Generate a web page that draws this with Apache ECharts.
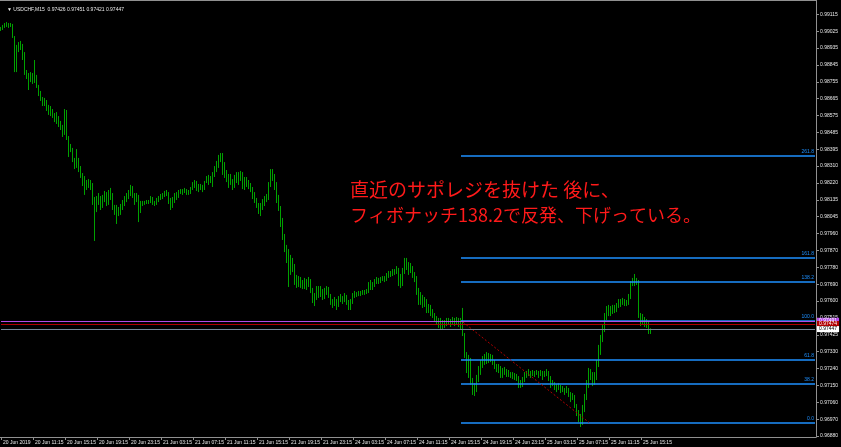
<!DOCTYPE html>
<html>
<head>
<meta charset="utf-8">
<script src="https://cdn.jsdelivr.net/npm/echarts@6/dist/echarts.min.js"></script>
<style>
html,body{margin:0;padding:0;background:#000;}
#c{width:841px;height:447px;}
</style>
</head>
<body>
<div id="c"></div>
<script>
// USDCHF M15, one bar per 15 minutes, starting 20 Jun 2019 07:15
const firstOpen = 0.99032;
const closes = [
0.99037,0.99048,0.99059,0.99064,0.99053,0.99059,0.98995,0.98815,0.98926,0.98953,
0.98958,0.98884,0.98804,0.98794,0.98767,0.98794,0.98772,0.98788,0.98735,0.98698,
0.98666,0.98645,0.98656,0.98619,0.98597,0.98608,0.98582,0.98555,0.98571,0.98534,
0.98518,0.98486,0.98603,0.98465,0.98417,0.98396,0.98343,0.98311,0.98343,0.98301,
0.98258,0.98237,0.98221,0.98205,0.98226,0.98211,0.98136,0.98089,0.98131,0.98147,
0.98099,0.98142,0.98168,0.98115,0.98147,0.98158,0.98089,0.98067,0.98078,0.98062,
0.98094,0.98105,0.98136,0.98147,0.98168,0.98195,0.98158,0.98131,0.98152,0.98073,
0.98110,0.98115,0.98115,0.98120,0.98126,0.98142,0.98115,0.98110,0.98131,0.98136,
0.98147,0.98152,0.98168,0.98173,0.98131,0.98094,0.98126,0.98158,0.98147,0.98168,
0.98179,0.98173,0.98184,0.98168,0.98173,0.98189,0.98205,0.98226,0.98195,0.98189,
0.98200,0.98189,0.98221,0.98237,0.98242,0.98237,0.98264,0.98279,0.98311,0.98343,
0.98354,0.98327,0.98264,0.98253,0.98221,0.98237,0.98205,0.98237,0.98264,0.98248,
0.98274,0.98237,0.98216,0.98232,0.98205,0.98184,0.98168,0.98131,0.98105,0.98078,
0.98094,0.98115,0.98131,0.98142,0.98211,0.98279,0.98258,0.98216,0.98152,0.98089,
0.98025,0.97940,0.97877,0.97824,0.97840,0.97760,0.97787,0.97718,0.97686,0.97707,
0.97691,0.97675,0.97696,0.97686,0.97707,0.97654,0.97601,0.97617,0.97654,0.97643,
0.97654,0.97617,0.97638,0.97665,0.97628,0.97596,0.97580,0.97601,0.97569,0.97601,
0.97617,0.97596,0.97622,0.97590,0.97569,0.97585,0.97622,0.97633,0.97628,0.97638,
0.97633,0.97643,0.97638,0.97649,0.97665,0.97691,0.97675,0.97702,0.97707,0.97696,
0.97712,0.97718,0.97707,0.97728,0.97739,0.97734,0.97749,0.97744,0.97760,0.97696,
0.97681,0.97749,0.97802,0.97792,0.97760,0.97771,0.97739,0.97718,0.97654,0.97590,
0.97622,0.97580,0.97601,0.97548,0.97564,0.97537,0.97522,0.97506,0.97490,0.97469,
0.97484,0.97458,0.97474,0.97484,0.97490,0.97474,0.97500,0.97484,0.97495,0.97479,
0.97453,0.97421,0.97310,0.97230,0.97283,0.97177,0.97135,0.97124,0.97177,0.97219,
0.97257,0.97283,0.97272,0.97304,0.97283,0.97299,0.97272,0.97251,0.97230,0.97241,
0.97209,0.97219,0.97230,0.97209,0.97214,0.97198,0.97204,0.97193,0.97188,0.97166,
0.97151,0.97177,0.97198,0.97209,0.97219,0.97204,0.97214,0.97209,0.97219,0.97204,
0.97214,0.97198,0.97209,0.97219,0.97188,0.97156,0.97161,0.97145,0.97135,0.97145,
0.97124,0.97129,0.97113,0.97129,0.97103,0.97082,0.97092,0.97045,0.97002,0.96976,
0.96965,0.97018,0.97082,0.97151,0.97219,0.97198,0.97166,0.97188,0.97257,0.97325,
0.97389,0.97442,0.97506,0.97537,0.97548,0.97537,0.97559,0.97553,0.97569,0.97590,
0.97585,0.97596,0.97580,0.97585,0.97617,0.97686,0.97696,0.97691,0.97702,0.97516,
0.97484,0.97506,0.97469,0.97479,0.97426,0.97447
];
const highs = [
0.99048,0.99059,0.99069,0.99074,0.99069,0.99069,0.99064,0.99000,0.98953,0.98968,
0.98974,0.98958,0.98915,0.98820,0.98804,0.98809,0.98804,0.98873,0.98794,0.98741,
0.98709,0.98677,0.98672,0.98661,0.98635,0.98629,0.98613,0.98592,0.98597,0.98576,
0.98550,0.98529,0.98613,0.98608,0.98470,0.98428,0.98407,0.98354,0.98401,0.98354,
0.98311,0.98274,0.98258,0.98237,0.98242,0.98237,0.98221,0.98147,0.98152,0.98168,
0.98152,0.98158,0.98179,0.98173,0.98184,0.98195,0.98168,0.98105,0.98105,0.98094,
0.98110,0.98131,0.98152,0.98168,0.98184,0.98211,0.98205,0.98168,0.98168,0.98158,
0.98126,0.98126,0.98126,0.98131,0.98131,0.98152,0.98147,0.98126,0.98142,0.98152,
0.98163,0.98168,0.98179,0.98184,0.98173,0.98142,0.98147,0.98168,0.98173,0.98184,
0.98189,0.98189,0.98195,0.98189,0.98184,0.98200,0.98226,0.98237,0.98232,0.98216,
0.98216,0.98211,0.98232,0.98258,0.98264,0.98258,0.98279,0.98311,0.98338,0.98370,
0.98380,0.98380,0.98332,0.98290,0.98269,0.98269,0.98242,0.98264,0.98279,0.98279,
0.98285,0.98279,0.98253,0.98253,0.98237,0.98221,0.98200,0.98173,0.98142,0.98115,
0.98115,0.98136,0.98152,0.98163,0.98226,0.98295,0.98295,0.98269,0.98226,0.98158,
0.98099,0.98036,0.97951,0.97893,0.97871,0.97840,0.97824,0.97792,0.97734,0.97728,
0.97723,0.97707,0.97718,0.97712,0.97723,0.97712,0.97665,0.97638,0.97675,0.97675,
0.97675,0.97659,0.97665,0.97675,0.97670,0.97633,0.97606,0.97617,0.97606,0.97622,
0.97633,0.97622,0.97638,0.97628,0.97601,0.97606,0.97638,0.97649,0.97643,0.97649,
0.97649,0.97654,0.97654,0.97659,0.97696,0.97707,0.97696,0.97712,0.97723,0.97718,
0.97723,0.97728,0.97728,0.97744,0.97755,0.97755,0.97765,0.97765,0.97781,0.97771,
0.97739,0.97771,0.97824,0.97824,0.97802,0.97797,0.97781,0.97749,0.97728,0.97665,
0.97643,0.97628,0.97617,0.97606,0.97580,0.97575,0.97553,0.97532,0.97516,0.97506,
0.97506,0.97495,0.97495,0.97506,0.97506,0.97500,0.97511,0.97506,0.97511,0.97506,
0.97506,0.97559,0.97426,0.97325,0.97310,0.97294,0.97188,0.97161,0.97204,0.97251,
0.97283,0.97304,0.97315,0.97325,0.97320,0.97315,0.97310,0.97283,0.97262,0.97262,
0.97251,0.97241,0.97246,0.97235,0.97230,0.97219,0.97219,0.97214,0.97209,0.97198,
0.97177,0.97193,0.97219,0.97225,0.97235,0.97225,0.97230,0.97225,0.97230,0.97225,
0.97230,0.97225,0.97225,0.97235,0.97225,0.97198,0.97177,0.97166,0.97156,0.97161,
0.97151,0.97145,0.97135,0.97145,0.97135,0.97113,0.97108,0.97098,0.97050,0.97018,
0.96997,0.97045,0.97103,0.97177,0.97241,0.97235,0.97219,0.97219,0.97283,0.97363,
0.97416,0.97469,0.97532,0.97569,0.97575,0.97569,0.97575,0.97575,0.97585,0.97606,
0.97606,0.97612,0.97606,0.97601,0.97633,0.97702,0.97718,0.97739,0.97718,0.97707,
0.97532,0.97527,0.97511,0.97500,0.97484,0.97451
];
const lows = [
0.99027,0.99032,0.99043,0.99048,0.99043,0.99048,0.98990,0.98809,0.98809,0.98915,
0.98926,0.98873,0.98794,0.98772,0.98714,0.98756,0.98746,0.98751,0.98725,0.98682,
0.98656,0.98629,0.98629,0.98603,0.98582,0.98576,0.98566,0.98544,0.98534,0.98518,
0.98502,0.98465,0.98476,0.98449,0.98359,0.98385,0.98332,0.98295,0.98301,0.98279,
0.98248,0.98205,0.98158,0.98184,0.98195,0.98184,0.98105,0.97914,0.98067,0.98105,
0.98078,0.98089,0.98120,0.98099,0.98105,0.98131,0.98078,0.98052,0.98004,0.98046,
0.98052,0.98078,0.98099,0.98120,0.98136,0.98152,0.98142,0.98105,0.98120,0.98014,
0.98062,0.98099,0.98105,0.98110,0.98110,0.98115,0.98105,0.98099,0.98105,0.98120,
0.98131,0.98136,0.98147,0.98152,0.98110,0.98078,0.98089,0.98115,0.98131,0.98142,
0.98163,0.98158,0.98168,0.98158,0.98158,0.98163,0.98184,0.98195,0.98179,0.98173,
0.98184,0.98173,0.98184,0.98221,0.98211,0.98221,0.98200,0.98253,0.98290,0.98301,
0.98332,0.98264,0.98248,0.98226,0.98195,0.98211,0.98184,0.98195,0.98221,0.98211,
0.98232,0.98189,0.98184,0.98200,0.98189,0.98173,0.98136,0.98115,0.98089,0.98057,
0.98046,0.98078,0.98099,0.98120,0.98131,0.98200,0.98232,0.98184,0.98115,0.98073,
0.97988,0.97919,0.97855,0.97797,0.97670,0.97734,0.97749,0.97681,0.97665,0.97670,
0.97665,0.97659,0.97659,0.97654,0.97670,0.97638,0.97585,0.97569,0.97601,0.97612,
0.97617,0.97601,0.97606,0.97628,0.97612,0.97575,0.97559,0.97569,0.97548,0.97564,
0.97590,0.97580,0.97590,0.97575,0.97548,0.97548,0.97580,0.97612,0.97617,0.97622,
0.97622,0.97628,0.97628,0.97633,0.97638,0.97654,0.97654,0.97670,0.97686,0.97686,
0.97691,0.97702,0.97696,0.97702,0.97718,0.97723,0.97728,0.97734,0.97739,0.97675,
0.97665,0.97675,0.97739,0.97760,0.97734,0.97744,0.97718,0.97696,0.97628,0.97575,
0.97575,0.97559,0.97564,0.97532,0.97532,0.97516,0.97506,0.97484,0.97474,0.97453,
0.97442,0.97442,0.97453,0.97463,0.97469,0.97458,0.97469,0.97463,0.97474,0.97458,
0.97442,0.97410,0.97294,0.97214,0.97188,0.97151,0.97098,0.97092,0.97113,0.97166,
0.97204,0.97241,0.97257,0.97262,0.97267,0.97272,0.97257,0.97235,0.97219,0.97214,
0.97188,0.97188,0.97204,0.97193,0.97193,0.97188,0.97182,0.97177,0.97172,0.97135,
0.97135,0.97140,0.97166,0.97188,0.97198,0.97188,0.97198,0.97193,0.97204,0.97188,
0.97198,0.97177,0.97193,0.97198,0.97172,0.97135,0.97145,0.97124,0.97113,0.97124,
0.97108,0.97113,0.97098,0.97108,0.97087,0.97060,0.97071,0.97029,0.96986,0.96954,
0.96928,0.96939,0.97007,0.97071,0.97135,0.97177,0.97145,0.97151,0.97177,0.97246,
0.97310,0.97378,0.97431,0.97495,0.97516,0.97516,0.97527,0.97532,0.97537,0.97559,
0.97564,0.97575,0.97569,0.97569,0.97575,0.97606,0.97675,0.97675,0.97681,0.97506,
0.97463,0.97474,0.97458,0.97453,0.97421,0.97421
];
const timeTickLabels = ["20 Jun 2019","20 Jun 11:15","20 Jun 15:15","20 Jun 19:15","20 Jun 23:15",
"21 Jun 03:15","21 Jun 07:15","21 Jun 11:15","21 Jun 15:15","21 Jun 19:15","21 Jun 23:15",
"24 Jun 03:15","24 Jun 07:15","24 Jun 11:15","24 Jun 15:15","24 Jun 19:15","24 Jun 23:15",
"25 Jun 03:15","25 Jun 07:15","25 Jun 11:15","25 Jun 15:15"];
const priceTickLabels = ["0.96880","0.96970","0.97060","0.97150","0.97240","0.97330","0.97425",
"0.97515","0.97600","0.97690","0.97780","0.97870","0.97960","0.98045","0.98135","0.98220",
"0.98310","0.98395","0.98485","0.98575","0.98665","0.98755","0.98845","0.98935","0.99025","0.99115"];
const fibNames = ["261.8","161.8","138.2","100.0","61.8","38.2","0.0"];
const fibValues = [0.98368,0.97827,0.97700,0.97493,0.97286,0.97159,0.96952];
const fibStartBar = 230;
const trendFrom = [231, 0.97484];
const trendTo = [294, 0.96952];
const hLines = [
  {name:"0.97491", value:0.97491, color:"#b44be6", text:"#ffffff"},
  {name:"0.97474", value:0.97474, color:"#b00000", text:"#ffffff"},
  {name:"0.97447", value:0.97447, color:"#778899", box:"#ffffff", text:"#000000"}
];
const titleText = "USDCHF,M15  0.97426 0.97451 0.97421 0.97447";
const noteLines = ["直近のサポレジを抜けた 後に、","フィボナッチ138.2で反発、下げっている。"];

const totalSlots = 408; // bars + empty right shift space
const cats = [];
for (let i = 0; i < totalSlots; i++) cats.push(String(i));
const ohlc = closes.map((c, i) => {
  const o = i === 0 ? firstOpen : closes[i - 1];
  const h = Math.max(highs[i], o, c);
  const l = Math.min(lows[i], o, c);
  return [o, c, l, h];
});

const smallFont = 'Liberation Sans';
const fibMarks = fibValues.map((v, k) => [
  {coord:[fibStartBar, v], lineStyle:{color:'#1e90ff', width:1.5, type:'solid'},
   label:{show:true, position:'insideEndTop', formatter:fibNames[k], color:'#1e90ff', fontSize:5, distance:1, fontFamily:smallFont}},
  {coord:[totalSlots - 1, v]}
]);
const hMarks = hLines.map(h => [
  {coord:[0, h.value], lineStyle:{color:h.color, width:1, type:'solid'},
   label:{show:true, position:'end', formatter:h.name, distance:2,
    backgroundColor:h.box || h.color, color:h.text, fontSize:5, padding:[1,2,0,2], fontFamily:smallFont}},
  {coord:[totalSlots - 1, h.value]}
]);
const trendMark = [
  {coord:trendFrom, lineStyle:{color:'#b00000', width:1, type:[2,2]}, label:{show:false}},
  {coord:trendTo}
];

const chart = echarts.init(document.getElementById('c'), null, {renderer:'canvas'});
chart.setOption({
  backgroundColor:'#000000',
  animation:false,
  title:{text:'\u25BC ' + titleText, left:2, top:2,
    textStyle:{color:'#e8e8e8', fontSize:5, fontWeight:'normal', fontFamily:smallFont}},
  grid:[
    {left:0, right:25, top:0, bottom:10, outerBoundsMode:'none'},
    {left:0, right:25, top:14.3, bottom:11, outerBoundsMode:'none'}
  ],
  xAxis:[
    {type:'category', gridIndex:0, data:cats, boundaryGap:true, position:'bottom',
      axisLine:{show:true, lineStyle:{color:'#909090', width:1}},
      axisTick:{show:true, length:3, lineStyle:{color:'#909090'},
        interval:(i)=> i % 16 === 0 && i / 16 < timeTickLabels.length, alignWithLabel:true},
      axisLabel:{show:true, color:'#e8e8e8', fontSize:5, fontFamily:smallFont, margin:3,
        align:'left', padding:[0,0,0,2],
        interval:(i)=> i % 16 === 0 && i / 16 < timeTickLabels.length,
        formatter:(v, i)=> timeTickLabels[i / 16] || ''},
      splitLine:{show:false}},
    {type:'category', gridIndex:0, data:cats, position:'top',
      axisLine:{show:true, lineStyle:{color:'#909090', width:1}},
      axisTick:{show:false}, axisLabel:{show:false}, splitLine:{show:false}},
    {type:'category', gridIndex:1, data:['a','b'], show:false}
  ],
  yAxis:[
    {type:'value', gridIndex:0, position:'right', min:0.96875, max:0.99191, scale:true,
      axisLine:{show:true, lineStyle:{color:'#909090', width:1}},
      axisTick:{show:false}, axisLabel:{show:false}, splitLine:{show:false}},
    {type:'category', gridIndex:1, position:'right', data:priceTickLabels, boundaryGap:false,
      axisLine:{show:false},
      axisTick:{show:true, length:3, lineStyle:{color:'#909090'}},
      axisLabel:{show:true, interval:0, color:'#e8e8e8', fontSize:5, fontFamily:smallFont, margin:4},
      splitLine:{show:false}}
  ],
  series:[{
    type:'candlestick', xAxisIndex:0, yAxisIndex:0, data:ohlc,
    barWidth:1.3,
    itemStyle:{color:'#000000', color0:'#f0fff0', borderColor:'#00e600', borderColor0:'#00e600', borderWidth:0.7},
    emphasis:{disabled:true},
    markLine:{silent:true, symbol:['none','none'], animation:false,
      data:[...fibMarks, trendMark, ...hMarks]}
  }],
  graphic:[
    {type:'text', left:350, top:180, silent:true,
      style:{text:noteLines[0], fill:'#ff1a1a', font:'19px "Noto Sans CJK JP"'}},
    {type:'text', left:350, top:206, silent:true,
      style:{text:noteLines[1], fill:'#ff1a1a', font:'18px "Noto Sans CJK JP"'}}
  ]
});
</script>
</body>
</html>
